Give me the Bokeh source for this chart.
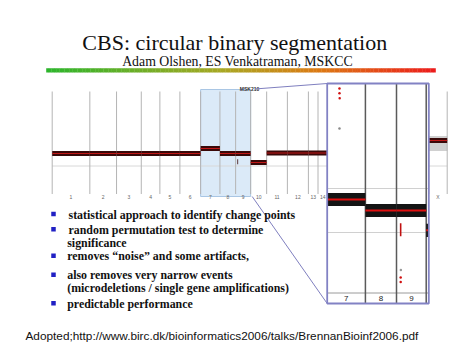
from bokeh.plotting import figure
from bokeh.models import Range1d
from bokeh.core.properties import value
from bokeh.embed import file_html
from bokeh.resources import INLINE

# ---------------- data ----------------
title_text = "CBS:  circular binary segmentation"
subtitle_text = "Adam Olshen, ES Venkatraman, MSKCC"
bullet_text = [
    " statistical approach to identify change points",
    " random permutation test to determine",
    "significance",
    "removes \u201cnoise\u201d and some artifacts,",
    "also removes very narrow events",
    "(microdeletions / single gene amplifications)",
    "predictable performance",
]
bullet_has_marker = [True, True, False, True, True, False, True]
footer_text = "Adopted;http://www.birc.dk/bioinformatics2006/talks/BrennanBioinf2006.pdf"
sample_label = "MSK210"

chrom_names = ["1", "2", "3", "4", "5", "6", "7", "8", "9", "10", "11", "12",
               "13", "14", "15", "16", "17", "18", "19", "20", "21", "22", "X"]
chrom_len = [376, 267, 247, 186, 200, 207, 193, 157, 150, 160, 207, 210,
             96, 97, 160, 150, 140, 130, 100, 120, 80, 130, 184]
chrom_mean = [0.0, 0.0, 0.0, 0.0, 0.0, 0.0, 0.2, 0.0, 0.0, -0.36, 0.02, 0.02,
              0.02, 0.02, 0.0, 0.0, 0.0, 0.0, 0.0, 0.0, 0.0, 0.0, 0.52]
zoom_chroms = ["7", "8", "9"]

# narrow event (offset within chromosome)
focal_chrom = ["9"]
focal_start = [17]
focal_end = [25]
focal_mean = [-0.33]

# outlier probes (offset within chromosome)
outlier_chrom = ["7", "7", "7", "7", "9", "9", "9"]
outlier_pos = [62, 62, 63, 62, 21, 21, 22]
outlier_lr = [2.22, 2.13, 2.04, 1.49, -1.22, -1.3, -1.08]
outlier_col = ["#d01010", "#d01010", "#d01010", "#888888", "#d01010", "#d01010", "#999999"]

main_grid = [-0.5]
zoom_grid = [0.4, -0.4]
main_lr_lim = (-1.62, 2.48)
zoom_lr_lim = (-1.5, 2.31)

# ---------------- layout ----------------
PX0, PX1 = 0, 466
PY0, PY1 = 0, 347
G_L, G_R = 51.7, 446.7          # main genome plot horizontal extent (page px)
LR0_Y, LR_SC = 153.0, 25.0      # main: page y of lr=0, px per unit
Z_L, Z_SC = 326.7, 0.198        # inset: page x of chr7 start, px per unit
ZLR0_Y, ZLR_SC = 210.0, 55.0    # inset: page y of lr=0, px per unit
INSET = dict(left=326.7, right=428.3, top=83, bottom=303)

starts = []
acc = 0
for L in chrom_len:
    starts.append(acc)
    acc += L
ends = [s + L for s, L in zip(starts, chrom_len)]
total = acc
idx = {c: i for i, c in enumerate(chrom_names)}
g_sc = (G_R - G_L) / total
z0 = starts[idx[zoom_chroms[0]]]
z1 = ends[idx[zoom_chroms[-1]]]
z_edge = z0 + (INSET["right"] - Z_L) / Z_SC

p = figure(width=PX1 - PX0, height=PY1 - PY0,
           x_range=Range1d(PX0, PX1), y_range=Range1d(PY1, PY0),
           toolbar_location=None, output_backend="svg",
           x_axis_location=None, y_axis_location=None,
           min_border=0, outline_line_color=None,
           background_fill_color="white", border_fill_color="white")
p.grid.visible = False

p.extra_x_ranges = {
    "g": Range1d(-(G_L - PX0) / g_sc, total + (PX1 - G_R) / g_sc),
    "z": Range1d(z0 - (Z_L - PX0) / Z_SC, z0 + (PX1 - Z_L) / Z_SC),
}
p.extra_y_ranges = {
    "lr": Range1d((LR0_Y - PY1) / LR_SC, (LR0_Y - PY0) / LR_SC),
    "zl": Range1d((ZLR0_Y - PY1) / ZLR_SC, (ZLR0_Y - PY0) / ZLR_SC),
}
G = dict(x_range_name="g", y_range_name="lr")
Z = dict(x_range_name="z", y_range_name="zl")

# ---------------- title ----------------
p.text(x=[237], y=[41.7], text=[title_text], text_font=value("Liberation Serif"),
       text_font_size=value("22px"), text_align="center", text_baseline="alphabetic",
       text_color="#111111")
p.text(x=[237], y=[61], text=[subtitle_text], text_font=value("Liberation Serif"),
       text_font_size=value("13.8px"), text_align="center", text_baseline="alphabetic",
       text_color="#111111")


def hex2rgb(h):
    return tuple(int(h[i:i + 2], 16) for i in (1, 3, 5))


stops = [(0.0, "#2cb52c"), (0.45, "#a8a824"), (0.7, "#dc7a14"), (1.0, "#ec1c1c")]
n = 150
gl, gr = 45.7, 435.0
lefts, rights, cols = [], [], []
for i in range(n):
    t = (i + 0.5) / n
    for (t0, c0), (t1, c1) in zip(stops[:-1], stops[1:]):
        if t0 <= t <= t1:
            a = (t - t0) / (t1 - t0)
            r0, g0, b0 = hex2rgb(c0)
            r1, g1, b1 = hex2rgb(c1)
            cols.append("#%02x%02x%02x" % (round(r0 + a * (r1 - r0)), round(g0 + a * (g1 - g0)), round(b0 + a * (b1 - b0))))
            break
    lefts.append(gl + i * (gr - gl) / n)
    rights.append(gl + (i + 1) * (gr - gl) / n + 0.3)
p.quad(left=lefts, right=rights, top=[67.7] * n, bottom=[71.9] * n, fill_color=cols, line_color=None)

# ---------------- main genome plot ----------------
zi0, zi1 = idx[zoom_chroms[0]], idx[zoom_chroms[-1]]
p.quad(left=[starts[zi0]], right=[ends[zi1]], top=[main_lr_lim[1] + 0.08], bottom=[main_lr_lim[0] - 0.1],
       fill_color="#dbeaf8", line_color="#a9c6e4", line_width=1, **G)
p.segment(x0=[starts[0]], x1=[total], y0=main_grid, y1=main_grid, line_color="#d8d8d8", line_width=1, **G)
bounds = starts + [total]
p.segment(x0=bounds, x1=bounds, y0=[main_lr_lim[1]] * len(bounds), y1=[main_lr_lim[0]] * len(bounds),
          line_color="#b4b4b4", line_width=1, **G)
mids = [(s + e) / 2 for s, e in zip(starts, ends)]
p.text(x=mids, y=[main_lr_lim[0] - 0.13] * len(mids), text=chrom_names, text_font=value("Liberation Sans"),
       text_font_size=value("5px"), text_align="center", text_baseline="middle", text_color="#666666", **G)

# noisy spread of X
xi = idx["X"]
p.quad(left=[starts[xi]], right=[ends[xi]], top=[chrom_mean[xi] + 0.18], bottom=[chrom_mean[xi] - 0.42],
       fill_color="#aaaaaa", fill_alpha=0.55, line_color=None, **G)
p.quad(left=starts, right=ends, top=[m + 0.1 for m in chrom_mean], bottom=[m - 0.1 for m in chrom_mean],
       fill_color="#3a0909", line_color=None, **G)
p.segment(x0=starts, x1=ends, y0=chrom_mean, y1=chrom_mean, line_color="#c01818", line_width=1.2, **G)
fs = [starts[idx[c]] + s for c, s in zip(focal_chrom, focal_start)]
fe = [starts[idx[c]] + e for c, e in zip(focal_chrom, focal_end)]
p.quad(left=fs, right=fe, top=[m + 0.1 for m in focal_mean], bottom=[m - 0.1 for m in focal_mean],
       fill_color="#3a0909", line_color=None, **G)

p.text(x=[249], y=[88.5], text=[sample_label], text_font=value("Liberation Sans"), text_font_style="bold",
       text_font_size=value("5px"), text_align="center", text_baseline="middle", text_color="#333333")

# connectors
p.segment(x0=[254, 251.7], y0=[88.5, 196], x1=[INSET["left"], INSET["left"]], y1=[INSET["top"], INSET["bottom"]],
          line_color="#7f7fbf", line_width=1)

# ---------------- inset ----------------
p.quad(left=[INSET["left"]], right=[INSET["right"]], top=[INSET["top"]], bottom=[INSET["bottom"]],
       fill_color="white", line_color=None)
p.segment(x0=[z0] * len(zoom_grid), x1=[z_edge] * len(zoom_grid), y0=zoom_grid, y1=zoom_grid,
          line_color="#d0d0d0", line_width=1, **Z)
p.segment(x0=[z0], x1=[z_edge], y0=[zoom_lr_lim[0]], y1=[zoom_lr_lim[0]], line_color="#9a9a9a", line_width=1, **Z)
zb = [ends[idx[c]] for c in zoom_chroms]
p.segment(x0=zb, x1=zb, y0=[zoom_lr_lim[1]] * len(zb), y1=[zoom_lr_lim[0] - 0.2] * len(zb),
          line_color="#5a5a5a", line_width=1.5, **Z)

zs = [starts[idx[c]] for c in zoom_chroms] + [starts[idx[zoom_chroms[-1]] + 1]]
ze = [ends[idx[c]] for c in zoom_chroms] + [z_edge]
zm = [chrom_mean[idx[c]] for c in zoom_chroms] + [chrom_mean[idx[zoom_chroms[-1]] + 1]]
p.quad(left=zs, right=ze, top=[m + 0.12 for m in zm], bottom=[m - 0.12 for m in zm],
       fill_color="#141414", line_color=None, **Z)
p.segment(x0=zs, x1=ze, y0=zm, y1=zm, line_color="#e01010", line_width=2, **Z)
p.quad(left=fs, right=fe, top=[m + 0.1 for m in focal_mean], bottom=[m - 0.14 for m in focal_mean],
       fill_color="#c01010", line_color=None, **Z)
ox = [starts[idx[c]] + o for c, o in zip(outlier_chrom, outlier_pos)]
p.scatter(x=ox, y=outlier_lr, size=2.5, color=outlier_col, line_color=None, **Z)
zmid = [(starts[idx[c]] + ends[idx[c]]) / 2 for c in zoom_chroms]
p.text(x=zmid, y=[zoom_lr_lim[0] - 0.1] * len(zmid), text=zoom_chroms, text_font=value("Liberation Sans"),
       text_font_size=value("8px"), text_align="center", text_baseline="middle", text_color="#222222", **Z)
p.quad(left=[INSET["left"]], right=[INSET["right"]], top=[INSET["top"]], bottom=[INSET["bottom"]],
       fill_color=None, line_color="#8282c4", line_width=1.8)

# ---------------- bullets ----------------
text_y = [214, 229.3, 242.3, 255.7, 274.7, 287.7, 303.3]
text_x = [68, 68, 66.7, 66.7, 66.7, 66.7, 66.7]
p.text(x=text_x, y=text_y, text=bullet_text, text_font=value("Liberation Serif"), text_font_style="bold",
       text_font_size=value("11.9px"), text_align="left", text_baseline="middle", text_color="#111111")
by = [y for y, m in zip(text_y, bullet_has_marker) if m]
p.scatter(x=[53] * len(by), y=[y - 0.5 for y in by], marker="square", size=4.5, color="#2121c4", line_color=None)

# ---------------- footer ----------------
p.text(x=[25], y=[335], text=[footer_text], text_font=value("Liberation Sans"), text_font_size=value("11.8px"),
       text_align="left", text_baseline="middle", text_color="#111111")

open("out.html", "w").write(file_html(p, INLINE))
